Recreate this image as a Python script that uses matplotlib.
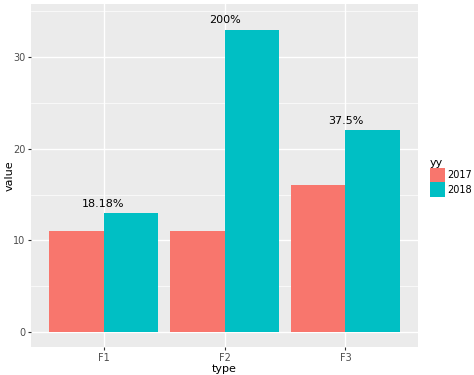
import matplotlib
matplotlib.use("Agg")
import matplotlib.pyplot as plt
import numpy as np
from matplotlib.ticker import MultipleLocator

types = ["F1", "F2", "F3"]
years = ["2017", "2018"]
v2017 = [11, 11, 16]
v2018 = [13, 33, 22]
pct = ["18.18%", "200%", "37.5%"]

colors = {"2017": "#F8766D", "2018": "#00BFC4"}

fig = plt.figure(figsize=(4.74, 3.75), dpi=100)
ax = fig.add_axes([31 / 474, 28 / 375, 387 / 474, 343 / 375])
ax.set_facecolor("#EBEBEB")

x = np.arange(1, len(types) + 1)
w = 0.45
b1 = ax.bar(x - w / 2, v2017, width=w, color=colors["2017"], label="2017", zorder=3)
b2 = ax.bar(x + w / 2, v2018, width=w, color=colors["2018"], label="2018", zorder=3)

for xi, v, t in zip(x, v2018, pct):
    ax.annotate(t, (xi, v), xytext=(0, 3), textcoords="offset points",
                ha="center", va="bottom", fontsize=8, color="black", zorder=4)

ax.set_xlim(0.4, 3.6)
ax.set_ylim(-1.65, 35.8)
ax.set_xticks(x)
ax.set_xticklabels(types)
ax.yaxis.set_major_locator(MultipleLocator(10))
ax.yaxis.set_minor_locator(MultipleLocator(5))

ax.grid(which="major", color="white", linewidth=1.0, zorder=0)
ax.grid(which="minor", axis="y", color="white", linewidth=0.5, zorder=0)
ax.set_axisbelow(True)
for s in ax.spines.values():
    s.set_visible(False)

ax.tick_params(which="major", length=2.5, width=0.8, color="#333333",
               labelsize=7, labelcolor="#4D4D4D", pad=1.5)
ax.tick_params(which="minor", length=0)
ax.set_xlabel("type", fontsize=8)
ax.set_ylabel("value", fontsize=8)
ax.xaxis.set_label_coords(0.5, -(369 - 347) / 343, transform=ax.transAxes)
ax.yaxis.set_label_coords(-(31 - 10) / 387, 0.5, transform=ax.transAxes)
ax.xaxis.label.set_va("center")
ax.yaxis.label.set_va("center")

leg = fig.legend(handles=[b1, b2], labels=years, title="yy",
                 loc="upper left", bbox_to_anchor=(430 / 474, 1 - 158 / 375),
                 frameon=False, fontsize=7, title_fontsize=8,
                 handlelength=1.5, handleheight=1.9, handletextpad=0.3,
                 labelspacing=0.0, borderaxespad=0, borderpad=0)
leg._legend_box.align = "left"

fig.savefig("out.png", dpi=100)
